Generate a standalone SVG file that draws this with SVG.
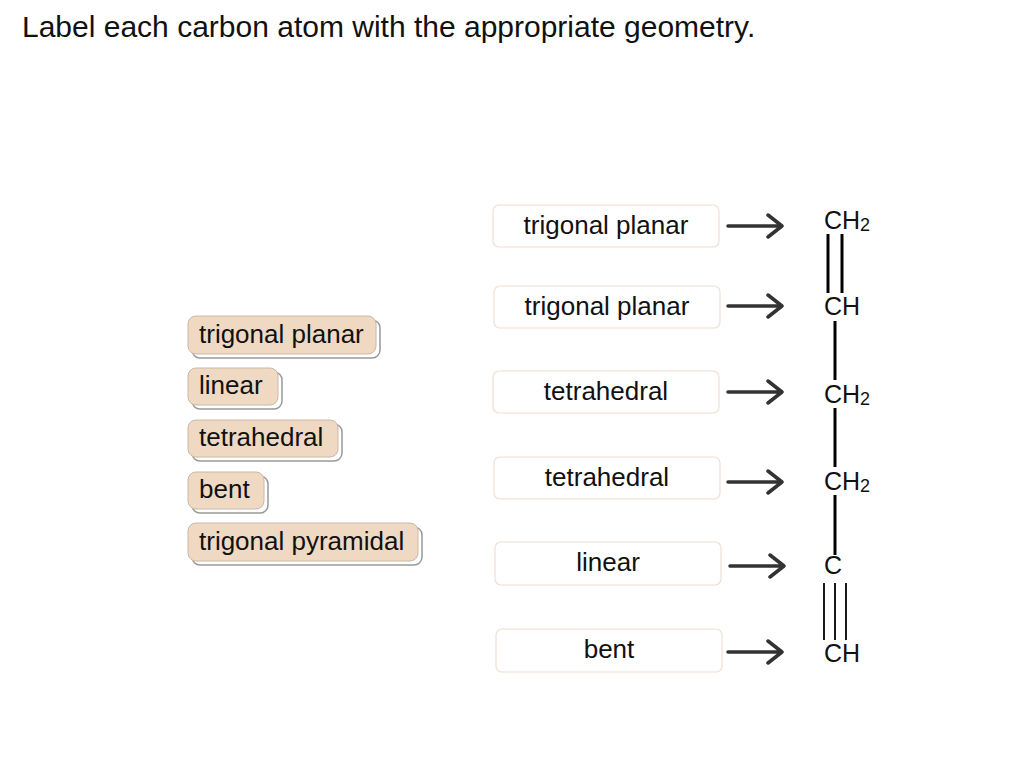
<svg xmlns="http://www.w3.org/2000/svg" width="1024" height="783" viewBox="0 0 1024 783">
<style>
text{font-family:"Liberation Sans",Arial,sans-serif;fill:#111}
.tile{fill:#efd9c3;stroke:#c9b8a8;stroke-width:1}
.sh{fill:#fff;stroke:#999;stroke-width:1.5}
.tt{font-size:26px}
.box{fill:#fff;stroke:#f0e0d0;stroke-width:1.2}
.bt{font-size:26px;text-anchor:middle}
.ar{stroke:#333;stroke-width:3.5;fill:none;stroke-linecap:round;stroke-linejoin:round}
.bd{stroke:#000;stroke-width:3}
.bt2{stroke:#000;stroke-width:1.8}
.ch{font-size:25px}
</style>
<rect width="1024" height="783" fill="#fff"/>
<text x="22" y="37" style="font-size:30px">Label each carbon atom with the appropriate geometry.</text>
<g id="tiles">
<g id="t1"><rect class="sh" x="192" y="320" width="188" height="38" rx="8"/><rect class="tile" x="188" y="316" width="188" height="38" rx="8"/><text class="tt" x="199" y="343">trigonal planar</text></g>
<g id="t2"><rect class="sh" x="192" y="372" width="90" height="37" rx="8"/><rect class="tile" x="188" y="368" width="90" height="37" rx="8"/><text class="tt" x="199" y="394">linear</text></g>
<g id="t3"><rect class="sh" x="192" y="424" width="150" height="37" rx="8"/><rect class="tile" x="188" y="420" width="150" height="37" rx="8"/><text class="tt" x="199" y="446">tetrahedral</text></g>
<g id="t4"><rect class="sh" x="192" y="476" width="76" height="37" rx="8"/><rect class="tile" x="188" y="472" width="76" height="37" rx="8"/><text class="tt" x="199" y="498">bent</text></g>
<g id="t5"><rect class="sh" x="192" y="527" width="230" height="38" rx="8"/><rect class="tile" x="188" y="523" width="230" height="38" rx="8"/><text class="tt" x="199" y="550">trigonal pyramidal</text></g>
</g>
<g id="boxes">
<g id="b1"><rect class="box" x="493" y="205" width="226" height="42" rx="6"/><text class="bt" x="606" y="234">trigonal planar</text></g>
<g id="b2"><rect class="box" x="494" y="286" width="226" height="42" rx="6"/><text class="bt" x="607" y="315">trigonal planar</text></g>
<g id="b3"><rect class="box" x="493" y="371" width="226" height="42" rx="6"/><text class="bt" x="606" y="400">tetrahedral</text></g>
<g id="b4"><rect class="box" x="494" y="457" width="226" height="42" rx="6"/><text class="bt" x="607" y="486">tetrahedral</text></g>
<g id="b5"><rect class="box" x="495" y="542" width="226" height="43" rx="6"/><text class="bt" x="608" y="571">linear</text></g>
<g id="b6"><rect class="box" x="496" y="629" width="226" height="43" rx="6"/><text class="bt" x="609" y="658">bent</text></g>
</g>
<g id="connectors">
<path class="ar" d="M728 226H782M768 215L782 226L768 237"/>
<path class="ar" d="M728 306H782M768 295L782 306L768 317"/>
<path class="ar" d="M728 392H782M768 381L782 392L768 403"/>
<path class="ar" d="M728 482H782M768 471L782 482L768 493"/>
<path class="ar" d="M730 566H784M770 555L784 566L770 577"/>
<path class="ar" d="M728 652H782M768 641L782 652L768 663"/>
<line class="bd" x1="828" y1="234" x2="828" y2="293"/>
<line class="bd" x1="842" y1="234" x2="842" y2="293"/>
<line class="bd" x1="835" y1="321" x2="835" y2="380"/>
<line class="bd" x1="835" y1="408" x2="835" y2="467"/>
<line class="bd" x1="835" y1="495" x2="835" y2="555"/>
<line class="bt2" x1="824" y1="583" x2="824" y2="640"/>
<line class="bt2" x1="835" y1="583" x2="835" y2="640"/>
<line class="bt2" x1="846" y1="583" x2="846" y2="640"/>
</g>
<g id="molecule">
<text class="ch" x="824" y="229">CH<tspan font-size="18" dy="2">2</tspan></text>
<text class="ch" x="824" y="315">CH</text>
<text class="ch" x="824" y="403">CH<tspan font-size="18" dy="2">2</tspan></text>
<text class="ch" x="824" y="490">CH<tspan font-size="18" dy="2">2</tspan></text>
<text class="ch" x="824" y="574">C</text>
<text class="ch" x="824" y="662">CH</text>
</g>
</svg>
